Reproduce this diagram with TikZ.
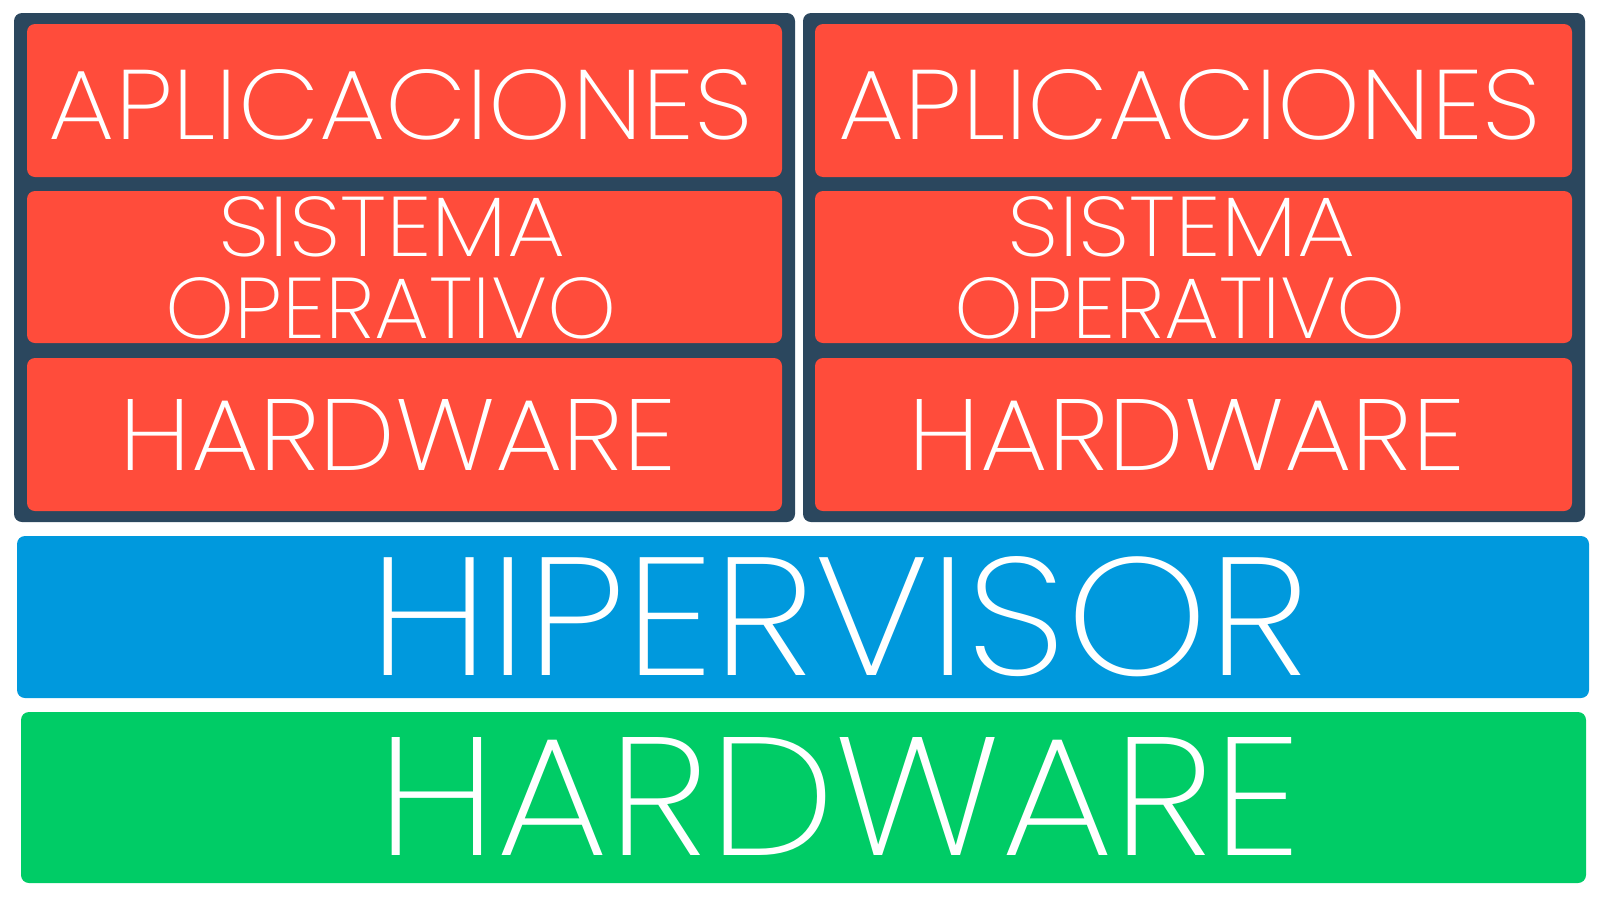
\documentclass[tikz,border=0pt]{standalone}
\usepackage{fontspec}
\setmainfont{Poppins}[UprightFont=* ExtraLight]
\usepackage{graphicx}
\definecolor{framecol}{HTML}{2B475E}
\definecolor{appred}{HTML}{FF4C3B}
\definecolor{hypblue}{HTML}{0099DD}
\definecolor{hwgreen}{HTML}{00CC66}
\tikzset{
  box/.style={inner sep=0pt, outer sep=0pt, anchor=north west, rounded corners=4pt},
  framebox/.style={box, fill=framecol},
  redbox/.style={box, fill=appred},
  label/.style={text=white, inner sep=0pt, outer sep=0pt, anchor=center}
}
% width, height in px (1px = 0.5pt)
\newlength{\pxu}
\setlength{\pxu}{0.5pt}
\newcommand{\fitword}[3]{\resizebox{#1\pxu}{#2\pxu}{#3}}
\begin{document}
\begin{tikzpicture}[x=0.5pt,y=-0.5pt]
\useasboundingbox (0,0) rectangle (1600,900);
% frames
\node[framebox, minimum width=390.5pt, minimum height=254.5pt] (fl) at (14,13) {};
\node[framebox, minimum width=391pt, minimum height=254.5pt] (fr) at (803,13) {};
% left stack
\node[redbox, minimum width=377.5pt, minimum height=76.5pt] (la) at (27,24) {};
\node[redbox, minimum width=377.5pt, minimum height=76pt] (ls) at (27,191) {};
\node[redbox, minimum width=377.5pt, minimum height=76.5pt] (lh) at (27,358) {};
% right stack
\node[redbox, minimum width=378.5pt, minimum height=76.5pt] (ra) at (815,24) {};
\node[redbox, minimum width=378.5pt, minimum height=76pt] (rs) at (815,191) {};
\node[redbox, minimum width=378.5pt, minimum height=76.5pt] (rh) at (815,358) {};
% hypervisor and hardware
\node[box, fill=hypblue, minimum width=786pt, minimum height=81pt] (hyp) at (17,536) {};
\node[box, fill=hwgreen, minimum width=782.5pt, minimum height=85.5pt] (hw) at (21,712) {};
% texts
\node[label] (tla) at (401,105) {\fitword{704}{70}{APLICACIONES}};
\node[label] (tls) at (392,227) {\fitword{347}{60}{SISTEMA}};
\node[label] (tlo) at (391,308.5) {\fitword{451}{61}{OPERATIVO}};
\node[label] (tlh) at (398,434.5) {\fitword{556}{71}{HARDWARE}};
\node[label] (tra) at (1190,105) {\fitword{702}{70}{APLICACIONES}};
\node[label] (trs) at (1181.5,227) {\fitword{347}{60}{SISTEMA}};
\node[label] (tro) at (1180.5,308.5) {\fitword{451}{61}{OPERATIVO}};
\node[label] (trh) at (1187,434.5) {\fitword{556}{71}{HARDWARE}};
\node[label] (thyp) at (839.5,616.5) {\fitword{939}{119}{HIPERVISOR}};
\node[label] (thw) at (839.5,796) {\fitword{923}{118}{HARDWARE}};
\end{tikzpicture}
\end{document}
